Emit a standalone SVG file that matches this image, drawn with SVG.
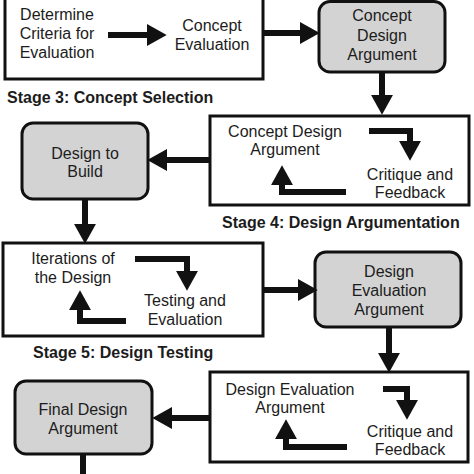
<svg xmlns="http://www.w3.org/2000/svg" width="474" height="474" viewBox="0 0 474 474">
<style>
.box{fill:#fff;stroke:#111;stroke-width:3}
.gbox{fill:#d3d3d3;stroke:#111;stroke-width:3}
.t{font-family:"Liberation Sans",Arial,sans-serif;font-size:16px;fill:#1c1c1c;text-anchor:middle}
.lbl{font-family:"Liberation Sans",Arial,sans-serif;font-size:16px;font-weight:bold;fill:#1c1c1c}
.ar{fill:none;stroke:#111;stroke-width:6;stroke-linejoin:miter;marker-end:url(#ah)}
.ln{fill:none;stroke:#111;stroke-width:6}
</style>
<defs>
<marker id="ah" markerUnits="userSpaceOnUse" markerWidth="20" markerHeight="22" viewBox="0 0 18 20" refX="1" refY="10" orient="auto">
<path d="M0,0 L18,10 L0,20 Z" fill="#111"/>
</marker>
</defs>
<rect fill="#fff" width="474" height="474"/>
<g id="stage3">
<rect class="box" x="5" y="-10" width="258" height="89"/>
<text class="lbl" x="7" y="103">Stage 3: Concept Selection</text>
</g>
<g id="determine-criteria">
<text class="t" x="57" y="20">Determine</text>
<text class="t" x="57" y="39">Criteria for</text>
<text class="t" x="57" y="58">Evaluation</text>
</g>
<g id="concept-evaluation">
<text class="t" x="212" y="31">Concept</text>
<text class="t" x="212" y="50">Evaluation</text>
</g>
<g id="concept-design-argument">
<rect class="gbox" x="319" y="1.5" width="126" height="70.5" rx="11"/>
<text class="t" x="382" y="21">Concept</text>
<text class="t" x="382" y="40.5">Design</text>
<text class="t" x="382" y="60">Argument</text>
</g>
<g id="stage4">
<rect class="box" x="210" y="116" width="259" height="89"/>
<text class="lbl" x="222" y="228">Stage 4: Design Argumentation</text>
</g>
<g id="cda-inner">
<text class="t" x="285" y="137">Concept Design</text>
<text class="t" x="285" y="155">Argument</text>
</g>
<g id="critique1">
<text class="t" x="410" y="180">Critique and</text>
<text class="t" x="410" y="198">Feedback</text>
</g>
<g id="design-to-build">
<rect class="gbox" x="22" y="123" width="126" height="76" rx="11"/>
<text class="t" x="85" y="159">Design to</text>
<text class="t" x="85" y="177">Build</text>
</g>
<g id="stage5">
<rect class="box" x="3" y="243" width="260" height="93"/>
<text class="lbl" x="33" y="358">Stage 5: Design Testing</text>
</g>
<g id="iterations">
<text class="t" x="73" y="264">Iterations of</text>
<text class="t" x="73" y="283">the Design</text>
</g>
<g id="testing">
<text class="t" x="185" y="306">Testing and</text>
<text class="t" x="185" y="325">Evaluation</text>
</g>
<g id="design-evaluation-argument">
<rect class="gbox" x="315" y="252" width="146" height="75" rx="11"/>
<text class="t" x="389" y="277">Design</text>
<text class="t" x="389" y="296">Evaluation</text>
<text class="t" x="389" y="315">Argument</text>
</g>
<g id="stage6">
<rect class="box" x="210" y="372" width="258" height="90"/>
</g>
<g id="dea-inner">
<text class="t" x="290" y="395">Design Evaluation</text>
<text class="t" x="290" y="413">Argument</text>
</g>
<g id="critique2">
<text class="t" x="410" y="437">Critique and</text>
<text class="t" x="410" y="455">Feedback</text>
</g>
<g id="final-design-argument">
<rect class="gbox" x="15" y="381" width="137" height="73" rx="11"/>
<text class="t" x="83" y="415">Final Design</text>
<text class="t" x="83" y="434">Argument</text>
</g>
<g id="connectors">
<path class="ar" d="M108,35 H148"/>
<path class="ar" d="M264,33 H301"/>
<path class="ar" d="M382,72 V96"/>
<path class="ar" d="M210,160 H166"/>
<path class="ar" d="M85,199 V225"/>
<path class="ar" d="M263,290 H299"/>
<path class="ar" d="M389,327 V354"/>
<path class="ar" d="M210,418 H171"/>
<path class="ln" d="M83,454 V480"/>
<path class="ar" d="M369,131 H410 V142"/>
<path class="ar" d="M346,192 H282 V184"/>
<path class="ar" d="M135,259 H187 V272"/>
<path class="ar" d="M126,321 H80 V309"/>
<path class="ar" d="M383,389 H407 V401"/>
<path class="ar" d="M347,447 H286 V438"/>
</g>
</svg>
